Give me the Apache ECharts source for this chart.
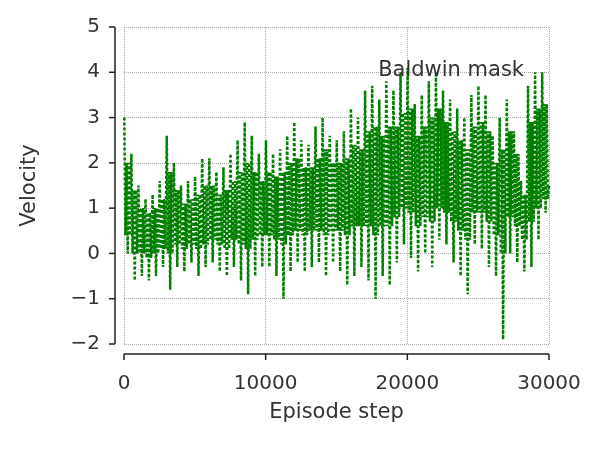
<!DOCTYPE html>
<html><head><meta charset="utf-8">
<script src="https://cdn.jsdelivr.net/npm/echarts@6/dist/echarts.min.js"></script>
<style>html,body{margin:0;padding:0;background:#fff}#c{width:607px;height:457px}</style>
</head><body><div id="c"></div>
<script>
const segStarts = [0,500,1000,1500,2000,2500,3000,3500,4000,4500,5000,5500,6000,6500,7000,7500,8000,8500,9000,9500,10000,10500,11000,11500,12000,12500,13000,13500,14000,14500,15000,15500,16000,16500,17000,17500,18000,18500,19000,19500,20000,20500,21000,21500,22000,22500,23000,23500,24000,24500,25000,25500,26000,26500,27000,27500,28000,28500,29000,29500];
const highs = [3.0,2.2,1.5,1.2,1.3,1.6,2.6,2.0,1.5,1.6,1.7,2.1,2.1,1.8,1.9,2.2,2.5,2.9,2.6,2.2,2.5,2.2,2.3,2.6,2.9,2.5,2.4,2.8,3.0,2.6,2.5,2.7,3.2,3.0,3.6,3.7,3.4,3.8,3.6,4.0,4.1,3.3,3.5,3.8,4.0,3.6,3.4,3.2,3.0,3.5,3.7,3.5,2.6,3.0,3.4,2.7,1.6,3.7,4.0,4.0];
const lows = [0.0,-0.6,-0.5,-0.6,-0.5,-0.3,-0.8,-0.3,-0.4,-0.2,-0.5,-0.3,-0.2,-0.4,-0.5,-0.3,-0.6,-0.9,-0.5,-0.3,-0.3,-0.5,-1.0,-0.4,-0.2,-0.4,-0.3,-0.2,-0.5,-0.2,-0.4,-0.7,-0.5,-0.3,-0.6,-1.0,-0.5,-0.7,-0.2,0.2,-0.1,-0.4,0.0,-0.3,0.3,0.2,-0.2,-0.5,-0.9,0.2,0.1,-0.3,-0.5,-1.9,0.0,-0.2,-0.4,-0.3,0.3,0.9];
const coreHighs = [2.0,1.4,1.0,0.9,1.0,1.2,1.8,1.4,1.1,1.2,1.3,1.5,1.5,1.3,1.4,1.6,1.8,2.0,1.8,1.6,1.8,1.7,1.8,2.0,2.1,1.9,1.9,2.1,2.3,2.0,2.0,2.1,2.4,2.3,2.7,2.8,2.6,2.8,2.8,3.1,3.2,2.6,2.8,3.0,3.2,2.9,2.7,2.5,2.3,2.8,2.9,2.7,2.0,2.3,2.7,2.2,1.3,2.9,3.2,3.3];
const coreLows = [0.4,0.0,0.0,-0.1,0.0,0.1,0.0,0.2,0.1,0.2,0.1,0.2,0.3,0.2,0.1,0.3,0.2,0.1,0.3,0.4,0.4,0.3,0.2,0.4,0.5,0.4,0.5,0.5,0.4,0.5,0.5,0.4,0.6,0.6,0.6,0.4,0.6,0.6,0.8,1.0,0.9,0.6,0.8,0.7,1.0,0.9,0.7,0.5,0.3,0.9,0.9,0.7,0.4,0.0,0.8,0.6,0.3,0.7,1.0,1.2];
const xTicks = [0,10000,20000,30000];
const yTicks = [-2,-1,0,1,2,3,4,5];
const data = [];
segStarts.forEach((s,i)=>{
  data.push([s+20, highs[i]]);
  data.push([s+100, coreLows[i]]);
  data.push([s+180, coreHighs[i]]);
  data.push([s+260, lows[i]]);
  data.push([s+340, coreHighs[i]]);
  data.push([s+420, coreLows[i]]);
});
data.push([30000, 1.5]);
const chart = echarts.init(document.getElementById('c'));
const txt = '#333';
chart.setOption({
  animation:false,
  grid:{left:124,right:58,top:27,bottom:113,containLabel:false},
  xAxis:{type:'value',min:0,max:30000,interval:10000,
    axisLine:{show:false},axisTick:{show:false},
    axisLabel:{color:txt,fontSize:20,fontFamily:'DejaVu Sans',margin:30,formatter:v=>''+v},
    splitLine:{show:true,lineStyle:{color:'#aaa',type:'dotted'}},
    name:'Episode step',nameLocation:'middle',nameGap:58,nameTextStyle:{color:txt,fontSize:21,fontFamily:'DejaVu Sans'}},
  yAxis:{type:'value',min:-2,max:5,interval:1,
    axisLine:{show:false},axisTick:{show:false},
    axisLabel:{color:txt,fontSize:20,fontFamily:'DejaVu Sans',margin:24,formatter:v=>v<0?'\u2212'+(-v):''+v},
    splitLine:{show:true,lineStyle:{color:'#aaa',type:'dotted'}},
    name:'Velocity',nameLocation:'middle',nameGap:84,nameTextStyle:{color:txt,fontSize:21,fontFamily:'DejaVu Sans'}},
  legend:{right:78,top:55,itemWidth:55,itemHeight:14,textStyle:{color:txt,fontSize:21,fontFamily:'DejaVu Sans',padding:[0,0,0,20]},
    data:[{name:'Baldwin mask',icon:'none'}]},
  graphic:[
    {type:'line',shape:{x1:115,y1:27,x2:115,y2:344},style:{stroke:'#222',lineWidth:1.5}},
    {type:'line',shape:{x1:124,y1:354,x2:549,y2:354},style:{stroke:'#222',lineWidth:1.5}},
    ...yTicks.map(v=>({type:'line',shape:{x1:109,y1:344-(v+2)*317/7,x2:115,y2:344-(v+2)*317/7},style:{stroke:'#222',lineWidth:1.5}})),
    ...xTicks.map(v=>({type:'line',shape:{x1:124+v*425/30000,y1:354,x2:124+v*425/30000,y2:360},style:{stroke:'#222',lineWidth:1.5}}))
  ],
  series:[{name:'Baldwin mask',type:'line',data:data,showSymbol:false,symbol:'none',
    lineStyle:{color:'#007f00',width:2.5,type:[3,2]},itemStyle:{color:'#007f00'}}]
});
</script></body></html>
